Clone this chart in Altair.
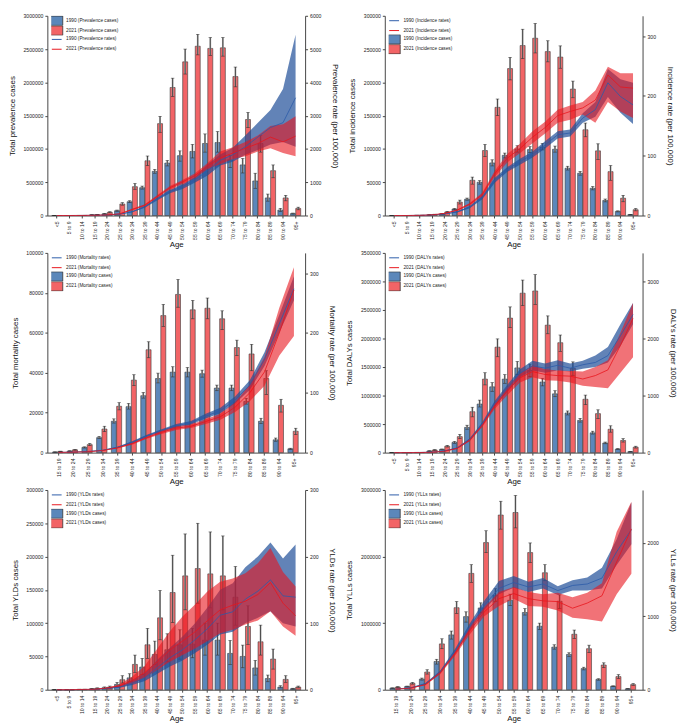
import altair as alt
import pandas as pd

AGES20 = ["<5", "5 to 9", "10 to 14", "15 to 19", "20 to 24", "25 to 29", "30 to 34",
          "35 to 39", "40 to 44", "45 to 49", "50 to 54", "55 to 59", "60 to 64",
          "65 to 69", "70 to 74", "75 to 79", "80 to 84", "85 to 89", "90 to 94", "95+"]
AGES17 = AGES20[3:]

# ---------------- Prevalence ----------------
P_C90 = [0, 0, 1000, 10000, 25000, 72000, 207000, 418000, 663000, 788000, 899000, 962000, 1082000, 1096000, 837000, 760000, 519000, 264000, 82000, 29000]
P_C90_LO = [0, 0, 800, 8000, 21000, 64000, 194000, 397000, 635000, 745000, 817000, 865000, 952000, 952000, 721000, 639000, 409000, 216000, 62000, 22000]
P_C90_HI = [0, 0, 1300, 12000, 30000, 82000, 222000, 442000, 692000, 827000, 971000, 1067000, 1226000, 1260000, 904000, 856000, 635000, 322000, 108000, 37000]
P_C21 = [0, 0, 1000, 14000, 48000, 173000, 433000, 822000, 1380000, 1923000, 2308000, 2543000, 2510000, 2519000, 2087000, 1442000, 1082000, 673000, 264000, 106000]
P_C21_LO = [0, 0, 800, 11000, 40000, 155000, 394000, 750000, 1250000, 1788000, 2125000, 2413000, 2404000, 2394000, 1933000, 1322000, 952000, 567000, 221000, 86000]
P_C21_HI = [0, 0, 1300, 17000, 57000, 193000, 481000, 894000, 1490000, 2063000, 2500000, 2721000, 2673000, 2673000, 2230000, 1548000, 1202000, 760000, 303000, 125000]
P_R90 = [0, 0, 2, 8, 15, 40, 115, 260, 500, 720, 865, 1077, 1346, 1654, 1827, 2067, 2356, 2644, 2788, 3538]
P_R90_LO = [0, 0, 1, 6, 12, 34, 100, 235, 460, 670, 800, 990, 1200, 1500, 1615, 1827, 1971, 2135, 2212, 2067]
P_R90_HI = [0, 0, 3, 10, 18, 46, 130, 285, 545, 770, 930, 1160, 1540, 1830, 2038, 2404, 2788, 3173, 3798, 5433]
P_R21 = [0, 0, 2, 8, 18, 50, 183, 308, 577, 837, 1010, 1202, 1490, 1731, 1875, 2019, 2163, 2356, 2212, 2385]
P_R21_LO = [0, 0, 1, 6, 14, 40, 160, 280, 530, 780, 950, 1130, 1400, 1538, 1700, 1779, 1923, 2019, 1875, 1779]
P_R21_HI = [0, 0, 3, 10, 22, 60, 205, 340, 620, 890, 1070, 1270, 1580, 1923, 2050, 2212, 2404, 2692, 2740, 2981]

# ---------------- Incidence ----------------
I_C90 = [0, 0, 300, 1000, 2500, 9600, 24500, 50000, 79000, 90400, 100000, 99000, 103000, 99500, 71000, 63500, 40900, 22600, 6200, 1400]
I_C90_LO = [0, 0, 200, 800, 2000, 8800, 23000, 47100, 74500, 86500, 95200, 94700, 98600, 95200, 68300, 60600, 38500, 20500, 5400, 1100]
I_C90_HI = [0, 0, 400, 1200, 3000, 10500, 26200, 52400, 83700, 93800, 104800, 103400, 108200, 104300, 74000, 66300, 43500, 24800, 7000, 1700]
I_C21 = [0, 0, 300, 1600, 5300, 20200, 52900, 97600, 162500, 220700, 255300, 266300, 246200, 238000, 189900, 128800, 97100, 65900, 26000, 8700]
I_C21_LO = [0, 0, 200, 1300, 4500, 17300, 47100, 88500, 150000, 203800, 235600, 244200, 230800, 221200, 176900, 118300, 84100, 52900, 20700, 7000]
I_C21_HI = [0, 0, 400, 1900, 6200, 23100, 57700, 106700, 175000, 237500, 279800, 288500, 262500, 254800, 201900, 138900, 107700, 75000, 30300, 10500]
I_R90 = [0, 0, 0.3, 1, 2.5, 6, 14, 30, 59, 77, 90, 102, 118, 135, 138, 163, 177, 222, 199, 185]
I_R90_LO = [0, 0, 0.2, 0.8, 2, 5, 12, 27, 55, 73, 85, 97, 112, 129, 132, 155, 165, 198, 172, 153]
I_R90_HI = [0, 0, 0.4, 1.2, 3, 7, 16, 33, 63, 81, 95, 107, 124, 141, 144, 171, 190, 245, 228, 222]
I_R21 = [0, 0, 0.3, 1.2, 3.5, 9, 19, 35, 70, 96, 112, 131, 147, 167, 174, 180, 193, 235, 215, 213]
I_R21_LO = [0, 0, 0.2, 1, 3, 8, 17, 32, 65, 89, 104, 121, 137, 155, 160, 169, 155, 190, 174, 163]
I_R21_HI = [0, 0, 0.4, 1.4, 4, 10, 21, 38, 75, 103, 120, 141, 157, 177, 184, 190, 209, 249, 238, 238]

# ---------------- Mortality (15 to 19 onwards) ----------------
M_C90 = [300, 800, 2600, 7500, 15700, 23000, 28500, 37100, 40300, 40300, 39500, 32300, 32300, 25600, 15700, 6400, 1900]
M_C90_LO = [250, 650, 2300, 7000, 14800, 21800, 27300, 34900, 37900, 37900, 37800, 31000, 31000, 24300, 14600, 5700, 1600]
M_C90_HI = [360, 950, 2900, 8100, 16900, 24600, 30100, 39800, 43000, 42600, 41300, 33800, 33800, 27200, 17200, 7300, 2200]
M_C21 = [600, 1400, 4000, 11800, 23200, 36300, 51500, 68600, 79200, 71500, 72300, 67000, 52600, 49400, 37100, 23700, 10700]
M_C21_LO = [500, 1200, 3500, 10500, 21400, 33600, 47500, 63200, 72800, 67000, 67000, 61600, 48600, 41000, 29100, 20300, 9000]
M_C21_HI = [700, 1600, 4600, 13200, 25000, 39000, 55500, 74200, 86700, 76200, 77400, 71000, 56300, 54200, 41000, 26700, 12200]
M_R90 = [0.3, 1, 2, 4, 9, 17, 28, 37, 45, 50, 61, 70, 88, 113, 156, 215, 274]
M_R90_LO = [0.2, 0.8, 1.7, 3.5, 8, 15, 26, 35, 42, 47, 57, 66, 82, 105, 145, 200, 255]
M_R90_HI = [0.4, 1.2, 2.3, 4.5, 10, 19, 30, 39, 48, 53, 65, 75, 94, 121, 168, 230, 295]
M_R21 = [0.3, 0.8, 1.5, 3.5, 8, 15, 25, 34, 41, 44, 52, 60, 76, 100, 135, 200, 272]
M_R21_LO = [0.2, 0.6, 1.2, 3, 7, 13, 23, 31, 38, 41, 48, 55, 68, 86, 112, 162, 195]
M_R21_HI = [0.4, 1, 1.8, 4, 9, 17, 27, 37, 44, 47, 56, 65, 84, 114, 160, 242, 310]

# ---------------- DALYs ----------------
D_C90 = [0, 0, 3000, 28000, 56000, 179000, 442000, 851000, 1153000, 1288000, 1484000, 1439000, 1237000, 1030000, 694000, 565000, 347000, 168000, 62000, 17000]
D_C90_LO = [0, 0, 2200, 24000, 49000, 163000, 410000, 800000, 1075000, 1215000, 1372000, 1330000, 1170000, 980000, 660000, 535000, 325000, 155000, 56000, 14000]
D_C90_HI = [0, 0, 3800, 33000, 64000, 196000, 480000, 920000, 1226000, 1366000, 1596000, 1550000, 1300000, 1085000, 730000, 600000, 375000, 185000, 70000, 21000]
D_C21 = [0, 0, 2000, 45000, 112000, 280000, 717000, 1288000, 1848000, 2357000, 2794000, 2833000, 2234000, 1926000, 1478000, 935000, 683000, 409000, 213000, 95000]
D_C21_LO = [0, 0, 1500, 38000, 98000, 245000, 627000, 1187000, 1680000, 2195000, 2576000, 2598000, 2083000, 1775000, 1355000, 840000, 599000, 358000, 185000, 80000]
D_C21_HI = [0, 0, 2600, 52000, 128000, 320000, 795000, 1400000, 1993000, 2553000, 3024000, 3119000, 2396000, 2061000, 1590000, 1008000, 750000, 470000, 245000, 112000]
D_R90 = [0, 0, 3, 8, 30, 80, 230, 500, 860, 1130, 1390, 1520, 1480, 1530, 1480, 1540, 1580, 1700, 2050, 2420]
D_R90_LO = [0, 0, 2, 6, 25, 70, 210, 470, 810, 1070, 1320, 1440, 1400, 1440, 1420, 1470, 1500, 1580, 1870, 2250]
D_R90_HI = [0, 0, 4, 10, 35, 90, 250, 530, 910, 1190, 1460, 1610, 1560, 1620, 1560, 1610, 1700, 1850, 2250, 2620]
D_R21 = [0, 0, 2, 6, 25, 75, 220, 480, 820, 1080, 1310, 1420, 1370, 1350, 1340, 1290, 1350, 1450, 1880, 2350]
D_R21_LO = [0, 0, 1, 5, 20, 65, 200, 450, 770, 1010, 1230, 1320, 1270, 1260, 1230, 1170, 1150, 1130, 1400, 1670]
D_R21_HI = [0, 0, 3, 8, 30, 85, 240, 510, 870, 1150, 1390, 1530, 1460, 1440, 1430, 1420, 1500, 1620, 2100, 2620]

# ---------------- YLDs ----------------
Y_C90 = [0, 0, 500, 1400, 3000, 8000, 17800, 34000, 53000, 60000, 67500, 68500, 74500, 74500, 54500, 50000, 32700, 16800, 4000, 1500]
Y_C90_LO = [0, 0, 300, 900, 2000, 5000, 12000, 23000, 38000, 42000, 46000, 48000, 52000, 52000, 38000, 33000, 22000, 12000, 2800, 1000]
Y_C90_HI = [0, 0, 700, 2000, 4200, 11000, 24000, 47000, 73000, 84000, 90000, 92000, 100000, 100000, 74000, 67000, 44000, 22000, 6000, 2200]
Y_C21 = [0, 0, 500, 2000, 3800, 15000, 38000, 67500, 108000, 146000, 171000, 182000, 174000, 171000, 139000, 95000, 72000, 46000, 15500, 4000]
Y_C21_LO = [0, 0, 300, 1300, 2500, 10000, 26000, 47000, 75000, 101000, 120000, 130000, 123000, 120000, 97000, 68000, 52000, 31000, 11000, 2800]
Y_C21_HI = [0, 0, 700, 2800, 5500, 21000, 52000, 92000, 149000, 202000, 234000, 250000, 237000, 231000, 185000, 126000, 97000, 61000, 21000, 5500]
Y_R90 = [0, 0, 0.3, 0.5, 2, 4, 10, 18, 33, 48, 60, 75, 92, 112, 117, 136, 148, 165, 141, 139]
Y_R90_LO = [0, 0, 0.2, 0.3, 1.2, 3, 7, 13, 24, 35, 44, 55, 68, 83, 87, 100, 108, 118, 100, 95]
Y_R90_HI = [0, 0, 0.5, 0.8, 3, 6, 14, 25, 45, 63, 80, 100, 124, 150, 160, 184, 200, 221, 197, 218]
Y_R21 = [0, 0, 0.4, 0.7, 2.5, 6, 14, 26, 42, 60, 73, 87, 104, 120, 127, 133, 143, 161, 130, 111]
Y_R21_LO = [0, 0, 0.2, 0.4, 1.5, 4, 9, 18, 30, 42, 52, 62, 73, 85, 90, 98, 104, 118, 95, 81]
Y_R21_HI = [0, 0, 0.6, 1, 3.5, 8, 20, 36, 62, 88, 110, 128, 148, 162, 167, 175, 190, 213, 177, 155]

# ---------------- YLLs (15 to 19 onwards) ----------------
L_C90 = [24000, 48000, 159000, 424000, 823000, 1098000, 1228000, 1420000, 1343000, 1160000, 953000, 640000, 530000, 318000, 154000, 53000, 14000]
L_C90_LO = [20000, 42000, 145000, 385000, 761000, 1016000, 1156000, 1324000, 1266000, 1122000, 905000, 610000, 500000, 298000, 143000, 48000, 12000]
L_C90_HI = [28000, 55000, 175000, 457000, 881000, 1170000, 1305000, 1517000, 1435000, 1218000, 1000000, 675000, 555000, 338000, 165000, 58000, 16000]
L_C21 = [39000, 96000, 265000, 688000, 1232000, 1747000, 2210000, 2624000, 2662000, 2060000, 1757000, 1329000, 833000, 616000, 371000, 197000, 77000]
L_C21_LO = [33000, 84000, 235000, 616000, 1146000, 1613000, 2060000, 2412000, 2431000, 1911000, 1637000, 1218000, 770000, 558000, 332000, 169000, 65000]
L_C21_HI = [46000, 110000, 300000, 765000, 1324000, 1878000, 2388000, 2831000, 2918000, 2205000, 1878000, 1425000, 896000, 669000, 404000, 226000, 92000]
L_R90 = [10, 25, 80, 240, 520, 850, 1150, 1380, 1460, 1400, 1440, 1350, 1420, 1440, 1520, 1880, 2180]
L_R90_LO = [8, 21, 70, 220, 490, 800, 1090, 1300, 1390, 1330, 1380, 1290, 1350, 1350, 1380, 1700, 1980]
L_R90_HI = [12, 29, 90, 260, 550, 900, 1210, 1480, 1550, 1470, 1520, 1410, 1490, 1530, 1660, 2050, 2550]
L_R21 = [8, 22, 70, 230, 490, 800, 1060, 1240, 1310, 1240, 1210, 1200, 1110, 1180, 1280, 1740, 2190]
L_R21_LO = [6, 18, 60, 210, 460, 750, 1000, 1140, 1240, 1140, 1130, 1080, 980, 960, 930, 1300, 1580]
L_R21_HI = [10, 26, 80, 250, 520, 850, 1120, 1330, 1400, 1330, 1300, 1320, 1260, 1320, 1450, 2150, 2560]

# axis ticks
P_LEFT_TICKS = [0, 500000, 1000000, 1500000, 2000000, 2500000, 3000000]
P_RIGHT_TICKS = [0, 1000, 2000, 3000, 4000, 5000, 6000]
I_LEFT_TICKS = [0, 50000, 100000, 150000, 200000, 250000, 300000]
I_RIGHT_TICKS = [0, 100, 200, 300]
M_LEFT_TICKS = [0, 20000, 40000, 60000, 80000, 100000]
M_RIGHT_TICKS = [0, 100, 200, 300]
D_LEFT_TICKS = [0, 500000, 1000000, 1500000, 2000000, 2500000, 3000000, 3500000]
D_RIGHT_TICKS = [0, 1000, 2000, 3000]
Y_LEFT_TICKS = [0, 50000, 100000, 150000, 200000, 250000, 300000]
Y_RIGHT_TICKS = [0, 100, 200, 300]
L_LEFT_TICKS = [0, 1000000, 2000000, 3000000]
L_RIGHT_TICKS = [0, 1000, 2000]

BLUE_BAR = "#5B87BA"
RED_BAR = "#F26466"
BLUE_BAND = "#1F4E99"
RED_BAND = "#E8141C"
BLUE_LINE = "#2B5BA8"
RED_LINE = "#E8141C"
FONT = "Liberation Sans"
W, H = 262, 203
LABEL_FS = 5.2
LEG_FS = 4.8
RECT_SYMBOL = "M-1.3,-1H1.3V1H-1.3Z"


def panel(name, left_title, right_title, ages, cases, rates, left_max, left_ticks,
          right_max, right_ticks, rates_first):
    n = len(ages)
    lab_c90 = f"1990 ({name} cases)"
    lab_c21 = f"2021 ({name} cases)"
    lab_r90 = f"1990 ({name} rates)"
    lab_r21 = f"2021 ({name} rates)"
    c90, c90lo, c90hi, c21, c21lo, c21hi = cases
    r90, r90lo, r90hi, r21, r21lo, r21hi = rates
    bars = pd.DataFrame({
        "age": ages * 2,
        "group": [lab_c90] * n + [lab_c21] * n,
        "yr": ["1990"] * n + ["2021"] * n,
        "value": c90 + c21,
        "lo": c90lo + c21lo,
        "hi": c90hi + c21hi,
    })
    rt = pd.DataFrame({
        "age": ages * 2,
        "group": [lab_r90] * n + [lab_r21] * n,
        "yr": ["1990"] * n + ["2021"] * n,
        "rate": r90 + r21,
        "rlo": r90lo + r21lo,
        "rhi": r90hi + r21hi,
    })
    x = alt.X("age:N", sort=ages, title="Age",
              scale=alt.Scale(paddingInner=0.18, paddingOuter=0.35),
              axis=alt.Axis(labelAngle=270, labelAlign="right", labelBaseline="middle",
                            titlePadding=1, labelPadding=3))
    xo = alt.XOffset("yr:N", sort=["1990", "2021"], scale=alt.Scale(paddingInner=0.06))
    ls = alt.Scale(domain=[0, left_max], nice=False)
    la = alt.Axis(values=left_ticks, format="d", title=left_title, orient="left", titlePadding=7)
    rs = alt.Scale(domain=[0, right_max], nice=False)
    ra = alt.Axis(values=right_ticks, format="d", title=right_title, orient="right", titlePadding=10)

    legY_rates = 0 if rates_first else 19
    legY_cases = 19 if rates_first else 0

    base_l = alt.Chart(bars)
    bar_layer = base_l.mark_bar(stroke="#3a3a3a", strokeWidth=0.6).encode(
        x=x, xOffset=xo,
        y=alt.Y("value:Q", scale=ls, axis=la),
        fill=alt.Fill("group:N", scale=alt.Scale(domain=[lab_c90, lab_c21], range=[BLUE_BAR, RED_BAR]),
                      legend=alt.Legend(title=None, orient="none", legendX=4, legendY=legY_cases,
                                        symbolType=RECT_SYMBOL, symbolSize=90, symbolStrokeColor="#333",
                                        symbolStrokeWidth=0.8, symbolOpacity=1, labelFontSize=LEG_FS,
                                        rowPadding=0, clipHeight=10, labelOffset=4)),
    )
    err_grey = base_l.mark_rule(color="#a8a8a8", strokeWidth=1.8).encode(
        x=x, xOffset=xo, y=alt.Y("lo:Q", scale=ls, axis=la), y2="hi:Q")
    err = base_l.mark_rule(color="#222", strokeWidth=0.7).encode(
        x=x, xOffset=xo, y=alt.Y("lo:Q", scale=ls, axis=la), y2="hi:Q")
    cap_hi = base_l.mark_tick(color="#222", size=3.5, thickness=0.7).encode(
        x=x, xOffset=xo, y=alt.Y("hi:Q", scale=ls, axis=la))
    cap_lo = base_l.mark_tick(color="#222", size=3.5, thickness=0.7).encode(
        x=x, xOffset=xo, y=alt.Y("lo:Q", scale=ls, axis=la))
    left = alt.layer(bar_layer, err_grey, err, cap_hi, cap_lo)

    base_r = alt.Chart(rt)
    band90 = base_r.mark_area(color=BLUE_BAND, opacity=0.7).encode(
        x=x, y=alt.Y("rlo:Q", scale=rs, axis=ra), y2="rhi:Q"
    ).transform_filter(alt.datum.yr == "1990")
    band21 = base_r.mark_area(color=RED_BAND, opacity=0.6).encode(
        x=x, y=alt.Y("rlo:Q", scale=rs, axis=ra), y2="rhi:Q"
    ).transform_filter(alt.datum.yr == "2021")
    lines = base_r.mark_line(strokeWidth=0.8).encode(
        x=x, y=alt.Y("rate:Q", scale=rs, axis=ra),
        stroke=alt.Stroke("group:N", scale=alt.Scale(domain=[lab_r90, lab_r21], range=[BLUE_LINE, RED_LINE]),
                          legend=alt.Legend(title=None, orient="none", legendX=4, legendY=legY_rates,
                                            symbolType="stroke", symbolSize=100, symbolStrokeWidth=1,
                                            labelFontSize=LEG_FS, rowPadding=0, clipHeight=10, labelOffset=4)),
    )
    right = alt.layer(band90, band21, lines)
    return alt.layer(left, right).resolve_scale(y="independent").properties(width=W, height=H)


p1 = panel("Prevalence", "Total prevalence cases", "Prevalence rate (per 100,000)", AGES20,
           [P_C90, P_C90_LO, P_C90_HI, P_C21, P_C21_LO, P_C21_HI],
           [P_R90, P_R90_LO, P_R90_HI, P_R21, P_R21_LO, P_R21_HI],
           3000000, P_LEFT_TICKS, 6000, P_RIGHT_TICKS, False)
p2 = panel("Incidence", "Total incidence cases", "Incidence rate (per 100,000)", AGES20,
           [I_C90, I_C90_LO, I_C90_HI, I_C21, I_C21_LO, I_C21_HI],
           [I_R90, I_R90_LO, I_R90_HI, I_R21, I_R21_LO, I_R21_HI],
           300000, I_LEFT_TICKS, 334, I_RIGHT_TICKS, True)
p3 = panel("Mortality", "Total mortality cases", "Mortality rate (per 100,000)", AGES17,
           [M_C90, M_C90_LO, M_C90_HI, M_C21, M_C21_LO, M_C21_HI],
           [M_R90, M_R90_LO, M_R90_HI, M_R21, M_R21_LO, M_R21_HI],
           100000, M_LEFT_TICKS, 334, M_RIGHT_TICKS, True)
p4 = panel("DALYs", "Total DALYs cases", "DALYs rate (per 100,000)", AGES20,
           [D_C90, D_C90_LO, D_C90_HI, D_C21, D_C21_LO, D_C21_HI],
           [D_R90, D_R90_LO, D_R90_HI, D_R21, D_R21_LO, D_R21_HI],
           3500000, D_LEFT_TICKS, 3500, D_RIGHT_TICKS, True)
p5 = panel("YLDs", "Total YLDs cases", "YLDs rate (per 100,000)", AGES20,
           [Y_C90, Y_C90_LO, Y_C90_HI, Y_C21, Y_C21_LO, Y_C21_HI],
           [Y_R90, Y_R90_LO, Y_R90_HI, Y_R21, Y_R21_LO, Y_R21_HI],
           300000, Y_LEFT_TICKS, 300, Y_RIGHT_TICKS, True)
p6 = panel("YLLs", "Total YLLs cases", "YLLs rate (per 100,000)", AGES17,
           [L_C90, L_C90_LO, L_C90_HI, L_C21, L_C21_LO, L_C21_HI],
           [L_R90, L_R90_LO, L_R90_HI, L_R21, L_R21_LO, L_R21_HI],
           3000000, L_LEFT_TICKS, 2720, L_RIGHT_TICKS, True)

chart = alt.concat(p1, p2, p3, p4, p5, p6, columns=2, spacing={"row": 2, "column": 6}).resolve_scale(
    fill="independent", stroke="independent", x="independent", y="independent"
).configure_axis(
    labelFont=FONT, titleFont=FONT, labelFontSize=LABEL_FS, titleFontSize=8,
    titleFontWeight="normal", labelColor="#222", titleColor="#111",
    domainColor="#444", tickColor="#444", tickSize=2.5, grid=False,
).configure_legend(
    labelFont=FONT, labelColor="#222",
).configure_view(stroke=None).properties(padding=0)

chart.save("out.html", embed_options={"renderer": "svg", "actions": False})
